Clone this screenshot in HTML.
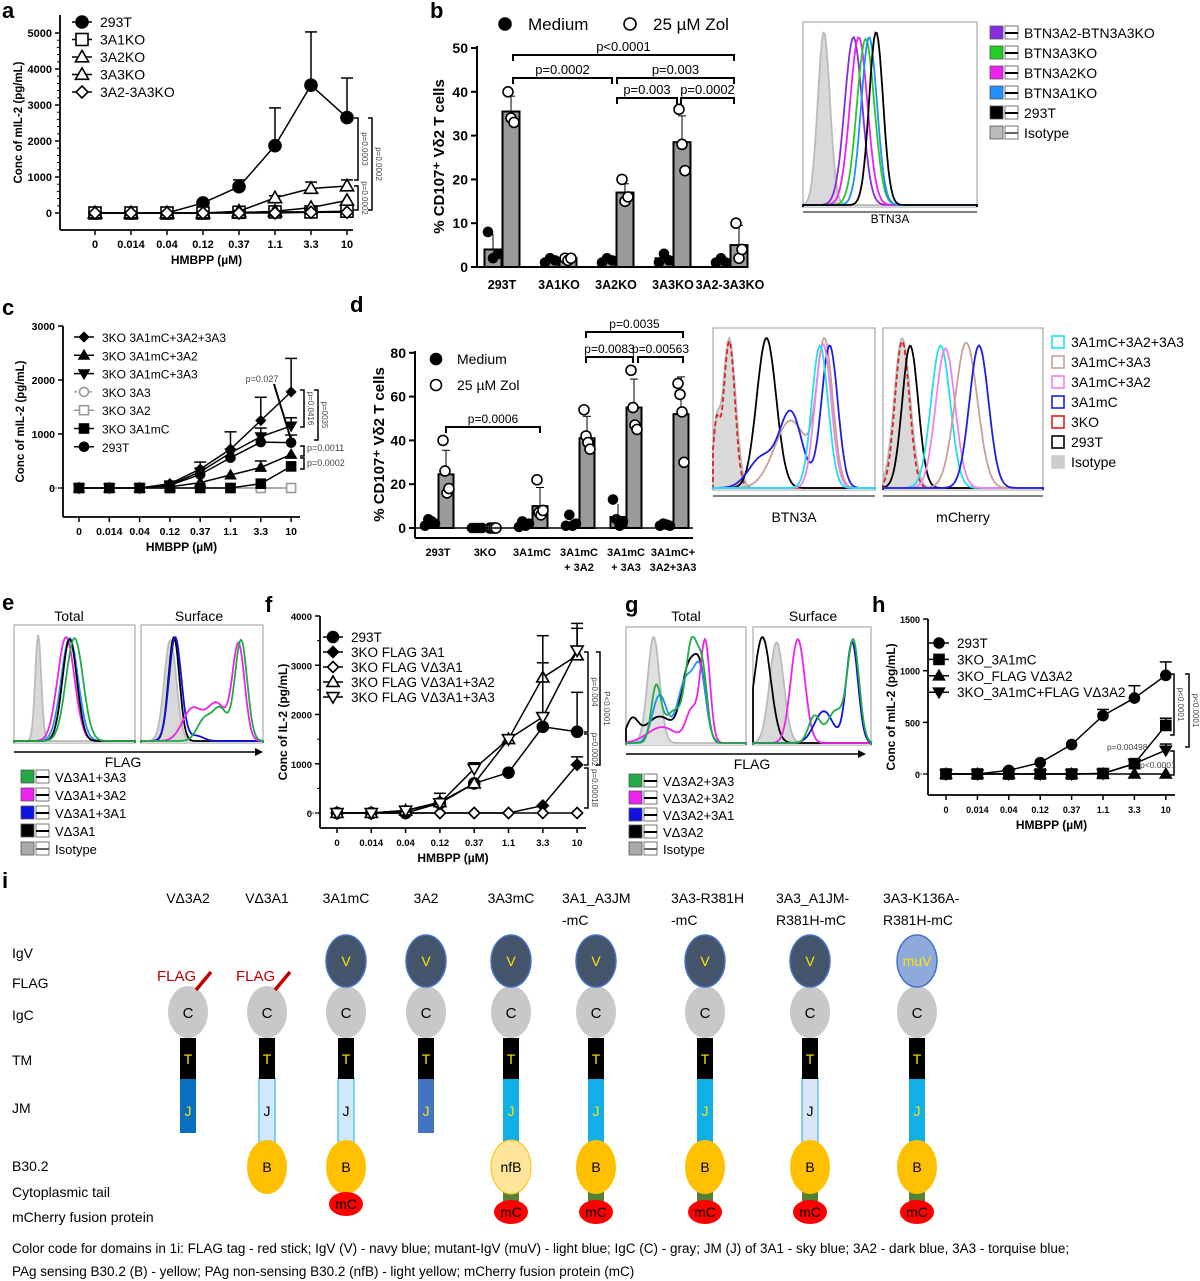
<!DOCTYPE html>
<html><head><meta charset="utf-8">
<style>
html,body{margin:0;padding:0;background:#fff;}
svg{display:block;font-family:"Liberation Sans",Arial,sans-serif;}
</style></head>
<body>
<svg id="fig" width="1200" height="1281" viewBox="0 0 1200 1281" xmlns="http://www.w3.org/2000/svg">
<rect x="0" y="0" width="1200" height="1281" fill="#fff"/>
</svg>
<script>
// ===== DATA =====
const hmbppLabels = ['0','0.014','0.04','0.12','0.37','1.1','3.3','10'];
// panel a
const a293T   = [0,0,0,280,730,1870,3550,2650];
const a293TErr= [0,0,0,60,190,1050,1480,1100];
const a3A1KO  = [0,0,0,0,20,30,30,50];
const a3A2KO  = [0,0,0,0,50,420,680,750];
const a3A2KOErr=[0,0,0,0,20,60,180,170];
const a3A3KO  = [0,0,0,0,0,50,150,350];
const a3A23KO = [0,0,0,0,0,0,20,20];
const aYTicks = [0,1000,2000,3000,4000,5000];
// panel b
const bCats = ['293T','3A1KO','3A2KO','3A3KO','3A2-3A3KO'];
const bMedium = [4,1.5,1.5,2,1.5];
const bZol = [35.5,2,17,28.5,5];
const bMedErr = [3.5,0.5,0.5,1,0.5];
const bZolErr = [3.5,0.5,2,6,4.5];
const bMedPts = [[8,2,3],[1,2,1.5],[1,2,1.5],[1,3,1.5],[1,2,1]];
const bZolPts = [[40,34,33],[2,1.5,2],[20,15,16],[36,28,22],[10,2,4]];
const bYTicks = [0,10,20,30,40,50];
// panel c
const c3A123 = [0,0,0,80,350,720,1250,1780];
const c3A123Err=[0,0,0,20,130,320,430,620];
const c3A12  = [0,0,0,20,100,240,380,620];
const c3A12Err=[0,0,0,0,0,0,120,0];
const c3A13  = [0,0,0,60,300,650,950,1150];
const c3A13Err=[0,0,0,0,0,0,160,150];
const c3A3   = [0,0,0,0,0,0,0,0];
const c3A2   = [0,0,0,0,0,0,0,0];
const c3A1mC = [0,0,0,0,0,0,80,400];
const c293T  = [0,0,0,50,250,560,850,840];
const c293TErr=[0,0,0,0,0,0,0,140];
const cYTicks = [0,1000,2000,3000];
// panel d
const dCats1 = ['293T','3KO','3A1mC','3A1mC','3A1mC','3A1mC+'];
const dCats2 = ['','','','+ 3A2','+ 3A3','3A2+3A3'];
const dMedium = [2,0,1.5,2,5,1.5];
const dZol = [24.5,0,10,41,55,52];
const dMedErr = [1,0,1,3,6,1];
const dZolErr = [11,0,8.5,10,13,17];
const dMedPts = [[1,4,3,2],[0,0,0,0],[0.5,3,1,2],[1,6,1,2],[13,4,1,3],[1,2,1.5,1]];
const dZolPts = [[40,26,16,18],[0,0,0,0],[22,7,6,8],[54,42,39,36],[72,55,47,45],[66,61,53,30]];
const dYTicks = [0,20,40,60,80];
// panel f
const f293T  = [0,0,0,200,600,820,1750,1650];
const f293TErr=[0,0,0,0,0,0,0,800];
const f3A1   = [0,0,0,0,0,0,150,980];
const f3A1Err= [0,0,0,0,0,0,0,160];
const fV3A1  = [0,0,0,0,0,0,0,0];
const fV3A1_2= [0,0,50,220,600,1500,2750,3200];
const fV3A1_2Err=[0,0,0,180,0,0,850,650];
const fV3A1_3= [0,0,50,200,900,1500,1950,3300];
const fV3A1_3Err=[0,0,0,0,120,0,1100,450];
const fYTicks = [0,1000,2000,3000,4000];
// panel h
const h293T  = [0,0,35,110,285,565,735,955];
const h293TErr=[0,0,0,0,0,60,120,130];
const h3A1mC = [0,0,0,0,0,5,100,470];
const h3A1mCErr=[0,0,0,0,0,0,0,70];
const hFlagV = [0,0,0,0,0,0,0,0];
const hCombo = [0,0,0,0,0,5,100,230];
const hComboErr=[0,0,0,0,0,0,0,60];
const hYTicks = [0,500,1000,1500];

// ===== HELPERS =====
const svg = document.getElementById('fig');
const NS = 'http://www.w3.org/2000/svg';
function mk(tag, attrs, name, parent){
  const e = document.createElementNS(NS, tag);
  for (const k in attrs) e.setAttribute(k, attrs[k]);
  
  
  (parent || svg).appendChild(e);
  return e;
}
function txt(x, y, s, name, o){
  o = o || {};
  const e = mk('text', {x:x, y:y, 'font-size':o.size||12, 'font-weight':o.bold?'bold':'normal',
    'text-anchor':o.anchor||'start', fill:o.fill||'#000'}, name);
  if (o.rot) e.setAttribute('transform', 'rotate(' + o.rot + ' ' + x + ' ' + y + ')');
  e.textContent = s;
  return e;
}
function line(x1,y1,x2,y2,name,o){
  o=o||{};
  return mk('line',{x1:x1,y1:y1,x2:x2,y2:y2,stroke:o.stroke||'#000','stroke-width':o.w||1.5,'stroke-dasharray':o.dash||'none'},name);
}
function marker(type, x, y, r, name, color){
  color = color || '#000';
  const filled = type[0] !== 'o';
  const t = filled ? type : type.slice(1);
  const fill = filled ? color : '#fff';
  const st = {fill:fill, stroke:color, 'stroke-width':1.6};
  let e;
  if (t === 'circle') e = mk('circle', Object.assign({cx:x,cy:y,r:r}, st), name);
  else if (t === 'square') e = mk('rect', Object.assign({x:x-r,y:y-r,width:2*r,height:2*r}, st), name);
  else if (t === 'tri') e = mk('polygon', Object.assign({points:(x)+','+(y-r*1.1)+' '+(x-r*1.1)+','+(y+r*0.8)+' '+(x+r*1.1)+','+(y+r*0.8)}, st), name);
  else if (t === 'dtri') e = mk('polygon', Object.assign({points:(x)+','+(y+r*1.1)+' '+(x-r*1.1)+','+(y-r*0.8)+' '+(x+r*1.1)+','+(y-r*0.8)}, st), name);
  else if (t === 'diamond') e = mk('polygon', Object.assign({points:x+','+(y-r)+' '+(x+r)+','+y+' '+x+','+(y+r)+' '+(x-r)+','+y}, st), name);
  return e;
}

function lineChart(c){
  const X = i => c.x0 + i * c.step;
  const Y = v => c.yZero - v * c.ppu;
  line(c.axX, c.axTop, c.axX, c.axBottom, c.id + '-y-axis', {w:1.8});
  line(c.axX, c.axBottom, c.xEnd, c.axBottom, c.id + '-x-axis', {w:1.8});
  c.yticks.forEach((v,k) => {
    line(c.axX-5, Y(v), c.axX, Y(v), c.id + '-y-tick', {w:1.5});
    txt(c.axX-8, Y(v)+4, String(v), c.id + '-y-tick-label', {size:c.tsize||11, bold:true, anchor:'end'});
    if (c.minor && k < c.yticks.length-1) {
      for (let m=1;m<c.minor;m++){
        const vv = v + (c.yticks[1]-c.yticks[0])*m/c.minor;
        line(c.axX-3, Y(vv), c.axX, Y(vv), c.id + '-y-minor-tick', {w:1});
      }
    }
  });
  hmbppLabels.forEach((s,i) => {
    line(X(i), c.axBottom, X(i), c.axBottom+5, c.id + '-x-tick', {w:1.5});
    txt(X(i), c.axBottom+18, s, c.id + '-x-tick-label', {size:c.tsize||11, bold:true, anchor:'middle'});
  });
  txt((c.axX+c.xEnd)/2, c.axBottom+34, 'HMBPP (\u00b5M)', c.id + '-x-axis-title', {size:12, bold:true, anchor:'middle'});
  txt(c.ytX, (c.axTop+c.axBottom)/2, c.ytitle, c.id + '-y-axis-title', {size:c.ytsize||11.5, bold:true, anchor:'middle', rot:-90});
  if (c.dotted) line(c.axX-12, Y(0), c.axX, Y(0), c.id + '-zero-dots', {dash:'2,2', w:1, stroke:'#666'});
  c.series.forEach((s, si) => {
    const col = s.color || '#000';
    let d = '';
    s.vals.forEach((v,i) => { d += (i?'L':'M') + X(i) + ',' + Y(v); });
    mk('path', {d:d, fill:'none', stroke:col, 'stroke-width':1.5, 'stroke-dasharray':s.dash||'none'}, c.id + '-line-' + s.key);
    if (s.err) s.vals.forEach((v,i) => {
      if (s.err[i] > 0) {
        line(X(i), Y(v), X(i), Y(v + s.err[i]), c.id + '-error-bar', {w:1.5, stroke:col});
        line(X(i)-6, Y(v + s.err[i]), X(i)+6, Y(v + s.err[i]), c.id + '-error-cap', {w:1.5, stroke:col});
      }
    });
    s.vals.forEach((v,i) => marker(s.m, X(i), Y(v), c.mr, c.id + '-point-' + s.key, col));
    const ly = c.legY + si * c.legStep;
    line(c.legX-10, ly, c.legX+10, ly, c.id + '-legend-line', {w:1.5, stroke:col, dash:s.dash||'none'});
    marker(s.m, c.legX, ly, c.mr, c.id + '-legend-marker', col);
    txt(c.legX+18, ly+5, s.label, c.id + '-legend-label', {size:c.lsize||13});
  });
  return {X:X, Y:Y};
}

function barChart(c){
  const X = i => c.x0 + i * c.step;
  const Y = v => c.yZero - v * c.ppu;
  line(c.axX, c.axTop, c.axX, c.axBottom, c.id + '-y-axis', {w:2});
  line(c.axX, c.axBottom, c.xEnd, c.axBottom, c.id + '-x-axis', {w:2});
  c.yticks.forEach(v => {
    line(c.axX-6, Y(v), c.axX, Y(v), c.id + '-y-tick', {w:2});
    txt(c.axX-9, Y(v)+5, String(v), c.id + '-y-tick-label', {size:14, bold:true, anchor:'end'});
  });
  txt(c.ytX, (c.axTop+c.axBottom)/2, '% CD107\u207a V\u03b42 T cells', c.id + '-y-axis-title', {size:15, bold:true, anchor:'middle', rot:-90});
  const bw = c.bw;
  c.cats.forEach((s,i) => {
    const xm = X(i) - c.off, xz = X(i) + c.off;
    mk('rect', {x:xm-bw/2, y:Y(c.med[i]), width:bw, height:Math.max(0.5, c.med[i]*c.ppu), fill:'#9a9a9a', stroke:'#000', 'stroke-width':2}, c.id + '-bar-medium');
    mk('rect', {x:xz-bw/2, y:Y(c.zol[i]), width:bw, height:Math.max(0.5, c.zol[i]*c.ppu), fill:'#9a9a9a', stroke:'#000', 'stroke-width':2}, c.id + '-bar-zol');
    if (c.medErr[i] > 0) line(xm, Y(c.med[i]), xm, Y(c.med[i]+c.medErr[i]), c.id + '-error-medium', {w:1});
    if (c.zolErr[i] > 0) {
      line(xz, Y(c.zol[i]), xz, Y(c.zol[i]+c.zolErr[i]), c.id + '-error-zol', {w:1});
      line(xz-4, Y(c.zol[i]+c.zolErr[i]), xz+4, Y(c.zol[i]+c.zolErr[i]), c.id + '-error-cap', {w:1});
    }
    c.medPts[i].forEach((v,k) => marker('circle', xm - 5 + k*10/(c.medPts[i].length-1), Y(v), 4.5, c.id + '-point-medium'));
    c.zolPts[i].forEach((v,k) => marker('ocircle', xz - 3 + k*6/(c.zolPts[i].length-1), Y(v), 5, c.id + '-point-zol'));
    txt(X(i), c.labY, s, c.id + '-x-tick-label', {size:c.lab||13, bold:true, anchor:'middle'});
    if (c.cats2 && c.cats2[i]) txt(X(i), c.labY+15, c.cats2[i], c.id + '-x-tick-label-2', {size:c.lab||13, bold:true, anchor:'middle'});
  });
  return {X:X, Y:Y};
}

function bracket(x1, x2, y, label, name, size){
  mk('path', {d:'M'+x1+','+(y+6)+'L'+x1+','+y+'L'+x2+','+y+'L'+x2+','+(y+6), fill:'none', stroke:'#000', 'stroke-width':2}, name);
  txt((x1+x2)/2, y-4, label, name + '-label', {size:size||13, anchor:'middle'});
}
function vbracket(x, y1, y2, label, name){
  mk('path', {d:'M'+(x-4)+','+y1+'L'+x+','+y1+'L'+x+','+y2+'L'+(x-4)+','+y2, fill:'none', stroke:'#000', 'stroke-width':1.5}, name);
  if (label) txt(x+4, (y1+y2)/2, label, name + '-label', {size:8, anchor:'middle', rot:90, fill:'#444'});
}

function hist(bx, by, bw, bh, curves, name){
  mk('rect', {x:bx, y:by, width:bw, height:bh, fill:'#fff', stroke:'#999', 'stroke-width':1}, name + '-frame');
  curves.forEach(cv => {
    let d = 'M' + bx + ',' + (by+bh);
    for (let k=0;k<=120;k++){
      const f = k/120;
      let v = 0;
      cv.comps.forEach(p => { v += p[2] * Math.exp(-Math.pow((f-p[0])/p[1],2)/2); });
      v = Math.min(v, 1);
      d += 'L' + (bx + f*bw).toFixed(1) + ',' + (by + bh - 2 - v*(bh-12)).toFixed(1);
    }
    d += 'L' + (bx+bw) + ',' + (by+bh);
    mk('path', {d:d, fill:cv.fill||'none', stroke:cv.color, 'stroke-width':cv.sw||1.8, 'stroke-dasharray':cv.dash||'none'}, name + '-curve');
  });
}
function histLegend(x, y, step, items, name, size){
  items.forEach((it,k) => {
    const yy = y + k*step;
    mk('rect', {x:x, y:yy-7, width:13, height:13, fill:it[0], stroke:'#555', 'stroke-width':0.8}, name + '-swatch');
    mk('rect', {x:x+15, y:yy-7, width:13, height:13, fill:'#fff', stroke:'#555', 'stroke-width':0.8}, name + '-line-swatch');
    line(x+15, yy, x+28, yy, name + '-line-sample', {w:2, stroke: k===items.length-1 ? '#666':'#000'});
    txt(x+34, yy+5, it[1], name + '-label', {size:size||14});
  });
}

// ===== PANEL LETTERS =====
[['a',2,18],['b',430,18],['c',2,315],['d',350,312],['e',2,610],['f',265,612],['g',625,612],['h',872,612],['i',2,888]].forEach(p => {
  txt(p[1], p[2], p[0], 'panel-label-' + p[0], {size:22, bold:true});
});

// ===== PANEL A =====
lineChart({id:'panel-a', x0:95, step:36, yZero:213, ppu:0.036, axX:60, axTop:15, axBottom:230, xEnd:353,
  yticks:aYTicks, minor:5, ytX:22, ytitle:'Conc of mIL-2 (pg/mL)', mr:6, legX:82, legY:22, legStep:17.5, lsize:14,
  series:[
    {key:'293t', label:'293T', vals:a293T, err:a293TErr, m:'circle'},
    {key:'3a1ko', label:'3A1KO', vals:a3A1KO, m:'osquare'},
    {key:'3a2ko', label:'3A2KO', vals:a3A2KO, err:a3A2KOErr, m:'otri'},
    {key:'3a3ko', label:'3A3KO', vals:a3A3KO, m:'otri'},
    {key:'3a2-3a3ko', label:'3A2-3A3KO', vals:a3A23KO, m:'odiamond'}
  ]});
vbracket(358, 118, 180, 'p=0.0003', 'panel-a-pvalue-1');
vbracket(372, 118, 210, 'p=0.0002', 'panel-a-pvalue-2');
vbracket(358, 186, 210, 'p=0.0002', 'panel-a-pvalue-3');

// ===== PANEL B =====
barChart({id:'panel-b', x0:502, step:57, off:9, bw:17, yZero:267, ppu:4.38, axX:477, axTop:46, axBottom:267, xEnd:745,
  yticks:bYTicks, ytX:444, cats:bCats, med:bMedium, zol:bZol, medErr:bMedErr, zolErr:bZolErr, medPts:bMedPts, zolPts:bZolPts, labY:289, lab:12.5});
marker('circle', 505, 24, 6, 'panel-b-legend-medium-marker');
txt(528, 30, 'Medium', 'panel-b-legend-medium', {size:17});
marker('ocircle', 630, 24, 6, 'panel-b-legend-zol-marker');
txt(653, 30, '25 \u00b5M Zol', 'panel-b-legend-zol', {size:17});
bracket(513, 734, 55, 'p<0.0001', 'panel-b-pvalue-1');
bracket(513, 612, 78, 'p=0.0002', 'panel-b-pvalue-2');
bracket(617, 734, 78, 'p=0.003', 'panel-b-pvalue-3');
bracket(617, 677, 98, 'p=0.003', 'panel-b-pvalue-4');
bracket(681, 734, 98, 'p=0.0002', 'panel-b-pvalue-5');
hist(803, 22, 174, 185, [
  {color:'#bbb', fill:'#d9d9d9', comps:[[0.12,0.035,1]]},
  {color:'#8a2be2', comps:[[0.29,0.05,0.97]]},
  {color:'#ee22ee', comps:[[0.32,0.05,0.97]]},
  {color:'#22cc22', comps:[[0.36,0.05,0.96]]},
  {color:'#1e90ff', comps:[[0.38,0.045,0.97]]},
  {color:'#000', comps:[[0.42,0.04,1]]}
], 'panel-b-histogram');
line(803, 212, 977, 212, 'panel-b-hist-axis', {w:1});
txt(890, 223, 'BTN3A', 'panel-b-hist-axis-title', {size:12, anchor:'middle'});
histLegend(990, 33, 20, [['#8a2be2','BTN3A2-BTN3A3KO'],['#22cc22','BTN3A3KO'],['#ee22ee','BTN3A2KO'],['#1e90ff','BTN3A1KO'],['#000','293T'],['#bbb','Isotype']], 'panel-b-legend', 14);

// ===== PANEL C =====
lineChart({id:'panel-c', x0:79, step:30.3, yZero:488, ppu:0.054, axX:63, axTop:326, axBottom:517, xEnd:300,
  yticks:cYTicks, ytX:24, ytitle:'Conc of mIL-2 (pg/mL)', mr:4.5, legX:84, legY:337, legStep:18.3, lsize:12, dotted:true, tsize:10.5,
  series:[
    {key:'3a1mc-3a2-3a3', label:'3KO 3A1mC+3A2+3A3', vals:c3A123, err:c3A123Err, m:'diamond'},
    {key:'3a1mc-3a2', label:'3KO 3A1mC+3A2', vals:c3A12, err:c3A12Err, m:'tri'},
    {key:'3a1mc-3a3', label:'3KO 3A1mC+3A3', vals:c3A13, err:c3A13Err, m:'dtri'},
    {key:'3a3', label:'3KO 3A3', vals:c3A3, m:'ocircle', color:'#999', dash:'3,2'},
    {key:'3a2', label:'3KO 3A2', vals:c3A2, m:'osquare', color:'#999'},
    {key:'3a1mc', label:'3KO 3A1mC', vals:c3A1mC, m:'square'},
    {key:'293t', label:'293T', vals:c293T, err:c293TErr, m:'circle'}
  ]});
line(292, 443, 274, 384, 'panel-c-pvalue-arrow', {w:2});
txt(262, 382, 'p=0.027', 'panel-c-pvalue-arrow-label', {size:9, anchor:'middle', fill:'#444'});
vbracket(304, 390, 427, 'p=0.0416', 'panel-c-pvalue-1');
vbracket(318, 390, 440, 'p=0035', 'panel-c-pvalue-2');
vbracket(304, 446, 456, '', 'panel-c-pvalue-3');
txt(307, 451, 'p=0.0011', 'panel-c-pvalue-3-text', {size:9, fill:'#444'});
vbracket(304, 458, 469, '', 'panel-c-pvalue-4');
txt(307, 466, 'p=0.0002', 'panel-c-pvalue-4-text', {size:9, fill:'#444'});

// ===== PANEL D =====
barChart({id:'panel-d', x0:438, step:47, off:8, bw:15, yZero:528, ppu:2.19, axX:415, axTop:351, axBottom:538, xEnd:693,
  yticks:dYTicks, ytX:384, cats:dCats1, cats2:dCats2, med:dMedium, zol:dZol, medErr:dMedErr, zolErr:dZolErr, medPts:dMedPts, zolPts:dZolPts, labY:556, lab:11});
line(415, 528, 693, 528, 'panel-d-zero-line', {w:1.5});
marker('circle', 436, 359, 5.5, 'panel-d-legend-medium-marker');
txt(457, 364, 'Medium', 'panel-d-legend-medium', {size:14});
marker('ocircle', 436, 385, 5.5, 'panel-d-legend-zol-marker');
txt(457, 390, '25 \u00b5M Zol', 'panel-d-legend-zol', {size:14});
bracket(446, 540, 427, 'p=0.0006', 'panel-d-pvalue-1', 12);
bracket(586, 683, 332, 'p=0.0035', 'panel-d-pvalue-2', 12);
bracket(586, 633, 357, 'p=0.0083', 'panel-d-pvalue-3', 12);
bracket(638, 683, 357, 'p=0.00563', 'panel-d-pvalue-4', 12);
hist(713, 328, 162, 162, [
  {color:'#bbb', fill:'#d9d9d9', comps:[[0.1,0.04,1],[0.02,0.02,0.35]]},
  {color:'#e02020', dash:'5,3', comps:[[0.1,0.035,0.98],[0.02,0.02,0.4]]},
  {color:'#000', comps:[[0.33,0.06,1]]},
  {color:'#c8a098', comps:[[0.48,0.1,0.45],[0.69,0.05,0.95]]},
  {color:'#1e1ee0', comps:[[0.3,0.08,0.2],[0.48,0.07,0.5],[0.72,0.05,0.95]]},
  {color:'#ee82ee', comps:[[0.68,0.05,0.96]]},
  {color:'#20e0f0', comps:[[0.66,0.05,0.95]]}
], 'panel-d-histogram-btn3a');
hist(883, 328, 160, 162, [
  {color:'#bbb', fill:'#d9d9d9', comps:[[0.12,0.05,1]]},
  {color:'#e02020', dash:'5,3', comps:[[0.12,0.045,0.98]]},
  {color:'#000', comps:[[0.17,0.05,0.95]]},
  {color:'#20e0f0', comps:[[0.36,0.06,0.95]]},
  {color:'#ee82ee', comps:[[0.39,0.06,0.93]]},
  {color:'#c8a098', comps:[[0.52,0.07,0.97]]},
  {color:'#1e1ee0', comps:[[0.6,0.06,0.95]]}
], 'panel-d-histogram-mcherry');
line(713, 496, 875, 496, 'panel-d-hist-axis-1', {w:1});
line(883, 496, 1043, 496, 'panel-d-hist-axis-2', {w:1});
txt(794, 522, 'BTN3A', 'panel-d-hist-axis-title-1', {size:14, anchor:'middle'});
txt(963, 522, 'mCherry', 'panel-d-hist-axis-title-2', {size:14, anchor:'middle'});
(function(){
  const items = [['#20e0f0','3A1mC+3A2+3A3'],['#c8a098','3A1mC+3A3'],['#ee82ee','3A1mC+3A2'],['#1e1ee0','3A1mC'],['#e02020','3KO'],['#000','293T'],['#ccc','Isotype']];
  items.forEach((it,k) => {
    const yy = 342 + k*20;
    mk('rect', {x:1052, y:yy-6, width:12, height:12, fill: k===6?'#ccc':'#fff', stroke:it[0], 'stroke-width':1.6}, 'panel-d-legend-swatch');
    txt(1071, yy+5, it[1], 'panel-d-legend-label', {size:14});
  });
})();

// ===== PANEL E =====
txt(69, 621, 'Total', 'panel-e-title-total', {size:14, anchor:'middle'});
txt(199, 621, 'Surface', 'panel-e-title-surface', {size:14, anchor:'middle'});
hist(14, 625, 121, 118, [
  {color:'#bbb', fill:'#d9d9d9', comps:[[0.2,0.025,1]]},
  {color:'#1e90ff', comps:[[0.46,0.07,0.97]]},
  {color:'#ee22ee', comps:[[0.43,0.07,0.98]]},
  {color:'#000', comps:[[0.46,0.06,0.96]]},
  {color:'#22aa44', comps:[[0.5,0.07,0.97]]}
], 'panel-e-histogram-total');
hist(141, 625, 122, 118, [
  {color:'#bbb', fill:'#d9d9d9', comps:[[0.24,0.05,0.95]]},
  {color:'#000', comps:[[0.27,0.045,0.98]]},
  {color:'#1010e0', comps:[[0.28,0.05,0.98],[0.45,0.06,0.05]]},
  {color:'#ee22ee', comps:[[0.42,0.08,0.3],[0.62,0.08,0.35],[0.8,0.05,0.9]]},
  {color:'#22aa44', comps:[[0.52,0.06,0.2],[0.65,0.06,0.3],[0.82,0.05,0.95]]}
], 'panel-e-histogram-surface');
line(14, 752, 258, 752, 'panel-e-hist-arrow', {w:1.5});
mk('polygon', {points:'263,752 255,748 255,756', fill:'#000'}, 'panel-e-hist-arrowhead');
txt(123, 767, 'FLAG', 'panel-e-hist-axis-title', {size:14, anchor:'middle'});
histLegend(21, 777, 18, [['#22aa44','V\u03943A1+3A3'],['#ee22ee','V\u03943A1+3A2'],['#1010e0','V\u03943A1+3A1'],['#000','V\u03943A1'],['#aaa','Isotype']], 'panel-e-legend', 13);

// ===== PANEL F =====
lineChart({id:'panel-f', x0:337, step:34.3, yZero:813, ppu:0.04925, axX:320, axTop:616, axBottom:828, xEnd:586,
  yticks:fYTicks, minor:2, ytX:287, ytitle:'Conc of IL-2 (pg/mL)', ytsize:12, mr:5.5, legX:333, legY:637, legStep:15, lsize:13.5, dotted:true, tsize:9.5,
  series:[
    {key:'293t', label:'293T', vals:f293T, err:f293TErr, m:'circle'},
    {key:'3a1', label:'3KO FLAG 3A1', vals:f3A1, err:f3A1Err, m:'diamond'},
    {key:'v3a1', label:'3KO FLAG V\u03943A1', vals:fV3A1, m:'odiamond'},
    {key:'v3a1-3a2', label:'3KO FLAG V\u03943A1+3A2', vals:fV3A1_2, err:fV3A1_2Err, m:'otri'},
    {key:'v3a1-3a3', label:'3KO FLAG V\u03943A1+3A3', vals:fV3A1_3, err:fV3A1_3Err, m:'odtri'}
  ]});
vbracket(588, 652, 732, 'p=0.004', 'panel-f-pvalue-1');
vbracket(588, 734, 765, 'p=0.0002', 'panel-f-pvalue-2');
vbracket(588, 768, 808, 'p=0.00018', 'panel-f-pvalue-3');
vbracket(600, 652, 765, 'P<0.0001', 'panel-f-pvalue-4');

// ===== PANEL G =====
txt(686, 621, 'Total', 'panel-g-title-total', {size:14, anchor:'middle'});
txt(813, 621, 'Surface', 'panel-g-title-surface', {size:14, anchor:'middle'});
hist(626, 627, 120, 118, [
  {color:'#bbb', fill:'#e0e0e0', comps:[[0.23,0.05,1]]},
  {color:'#000', comps:[[0.05,0.05,0.2],[0.28,0.12,0.25],[0.52,0.06,0.65],[0.62,0.05,0.6]]},
  {color:'#1e90ff', comps:[[0.28,0.06,0.45],[0.5,0.07,0.6],[0.62,0.05,0.6]]},
  {color:'#ee22ee', comps:[[0.3,0.12,0.15],[0.55,0.05,0.3],[0.66,0.04,0.95]]},
  {color:'#22aa44', comps:[[0.25,0.04,0.5],[0.4,0.08,0.3],[0.55,0.05,0.9],[0.64,0.04,0.6]]}
], 'panel-g-histogram-total');
hist(753, 627, 118, 118, [
  {color:'#bbb', fill:'#d9d9d9', comps:[[0.2,0.06,0.95]]},
  {color:'#000', comps:[[0.08,0.07,1]]},
  {color:'#ee22ee', comps:[[0.38,0.06,0.98]]},
  {color:'#1010e0', comps:[[0.6,0.08,0.3],[0.84,0.05,0.95]]},
  {color:'#22aa44', comps:[[0.52,0.05,0.25],[0.7,0.07,0.3],[0.85,0.05,0.95]]}
], 'panel-g-histogram-surface');
line(626, 754, 860, 754, 'panel-g-hist-arrow', {w:1.5});
mk('polygon', {points:'866,754 858,750 858,758', fill:'#000'}, 'panel-g-hist-arrowhead');
txt(752, 769, 'FLAG', 'panel-g-hist-axis-title', {size:14, anchor:'middle'});
histLegend(629, 781, 17, [['#22aa44','V\u03943A2+3A3'],['#ee22ee','V\u03943A2+3A2'],['#1010e0','V\u03943A2+3A1'],['#000','V\u03943A2'],['#aaa','Isotype']], 'panel-g-legend', 13);

// ===== PANEL H =====
lineChart({id:'panel-h', x0:946, step:31.4, yZero:774, ppu:0.1033, axX:928, axTop:619, axBottom:795, xEnd:1175,
  yticks:hYTicks, ytX:895, ytitle:'Conc of mIL-2 (pg/mL)', ytsize:12, mr:5, legX:939, legY:643, legStep:16.4, lsize:13.5, dotted:true, tsize:9,
  series:[
    {key:'293t', label:'293T', vals:h293T, err:h293TErr, m:'circle'},
    {key:'3a1mc', label:'3KO_3A1mC', vals:h3A1mC, err:h3A1mCErr, m:'square'},
    {key:'flag-v3a2', label:'3KO_FLAG V\u03943A2', vals:hFlagV, m:'tri'},
    {key:'3a1mc-flag-v3a2', label:'3KO_3A1mC+FLAG V\u03943A2', vals:hCombo, err:hComboErr, m:'dtri'}
  ]});
vbracket(1174, 674, 735, 'p<0.0001', 'panel-h-pvalue-1');
vbracket(1189, 674, 747, 'p<0.0001', 'panel-h-pvalue-2');
vbracket(1174, 751, 775, '', 'panel-h-pvalue-3');
txt(1107, 750, 'p=0.00498', 'panel-h-pvalue-3-text', {size:8.5, fill:'#444'});
txt(1140, 768, 'p<0.0001', 'panel-h-pvalue-4-text', {size:8.5, fill:'#444'});

// ===== PANEL I =====
const iNames = ['V\u03943A2','V\u03943A1','3A1mC','3A2','3A3mC','3A1_A3JM','3A3-R381H','3A3_A1JM-','3A3-K136A-'];
const iNames2 = ['','','','','','-mC','-mC','R381H-mC','R381H-mC'];
const iX = [188, 267, 346, 426, 511, 596, 705, 810, 917];
const iV = ['', '', 'V','V','V','V','V','V','muV'];
const iJ = ['#0a6fbd','#cfe9fb','#cfe9fb','#4472c4','#12aee8','#12aee8','#12aee8','#dbe4f4','#12aee8'];
const iB = ['', 'B','B','','nfB','B','B','B','B'];
const iTail = [0,0,0,0,1,1,1,1,1];
const iMC = [0,0,1,0,1,1,1,1,1];
[['IgV',958],['FLAG',988],['IgC',1020],['TM',1065],['JM',1113],['B30.2',1171],['Cytoplasmic tail',1197],['mCherry fusion protein',1222]].forEach(r => {
  txt(12, r[1], r[0], 'panel-i-row-label', {size:14});
});
iX.forEach((c,k) => {
  const hx = k >= 5 ? c - 34 : c;
  txt(hx, 903, iNames[k], 'panel-i-column-header', {size:14, anchor: k>=5 ? 'start':'middle'});
  if (iNames2[k]) txt(hx, 925, iNames2[k], 'panel-i-column-header-2', {size:14});
  const hasB = iB[k] !== '';
  const jEnd = hasB ? 1145 : 1133;
  const light = (iJ[k] === '#cfe9fb' || iJ[k] === '#dbe4f4');
  mk('rect', {x:c-8, y:1078, width:16, height:jEnd-1078, fill:iJ[k], stroke: light ? '#12aee8':'none', 'stroke-width':1}, 'panel-i-jm-domain');
  txt(c, 1116, 'J', 'panel-i-jm-label', {size:14, anchor:'middle', fill: light ? '#000':'#ffe600'});
  mk('rect', {x:c-8, y:1038, width:16, height:41, fill:'#000'}, 'panel-i-tm-domain');
  txt(c, 1064, 'T', 'panel-i-tm-label', {size:14, anchor:'middle', fill:'#ffe600'});
  if (iTail[k]) mk('rect', {x:c-8, y:1190, width:16, height:14, fill:'#548235'}, 'panel-i-cytoplasmic-tail');
  if (hasB) {
    const nf = iB[k] === 'nfB';
    mk('ellipse', {cx:c, cy:1167, rx:20, ry:27, fill: nf ? '#fee599':'#ffc000', stroke: nf ? '#ffc000':'none', 'stroke-width':1}, 'panel-i-b30-2-domain');
    txt(c, 1172, iB[k], 'panel-i-b30-2-label', {size:14, anchor:'middle'});
  }
  if (iMC[k]) {
    const my = iTail[k] ? 1212 : 1204;
    mk('ellipse', {cx:c, cy:my, rx:17, ry:12, fill:'#ff0000'}, 'panel-i-mcherry');
    txt(c, my+5, 'mC', 'panel-i-mcherry-label', {size:14, anchor:'middle'});
  }
  mk('ellipse', {cx:c, cy:1012, rx:20, ry:26, fill:'#c8c8c8'}, 'panel-i-igc-domain');
  txt(c, 1018, 'C', 'panel-i-igc-label', {size:15, anchor:'middle'});
  if (iV[k]) {
    const mu = iV[k] === 'muV';
    mk('ellipse', {cx:c, cy:961, rx:20, ry:26, fill: mu ? '#8eaadb':'#44546a', stroke:'#4472c4', 'stroke-width':1.5}, 'panel-i-igv-domain');
    txt(c, 966, iV[k], 'panel-i-igv-label', {size:14, anchor:'middle', fill:'#ffe600'});
  } else {
    line(c+8, 990, c+23, 972, 'panel-i-flag-stick', {w:3.5, stroke:'#c00000'});
    txt(c-31, 981, 'FLAG', 'panel-i-flag-label', {size:15, fill:'#c00000'});
  }
});
txt(12, 1253, 'Color code for domains in 1i: FLAG tag - red stick; IgV (V) - navy blue; mutant-IgV (muV) - light blue; IgC (C) - gray; JM (J) of 3A1 - sky blue; 3A2 - dark blue, 3A3 - torquise blue;', 'panel-i-caption-line-1', {size:13.5});
txt(12, 1276, 'PAg sensing B30.2 (B) - yellow; PAg non-sensing B30.2 (nfB) - light yellow; mCherry fusion protein (mC)', 'panel-i-caption-line-2', {size:13.5});
</script>
</body></html>
